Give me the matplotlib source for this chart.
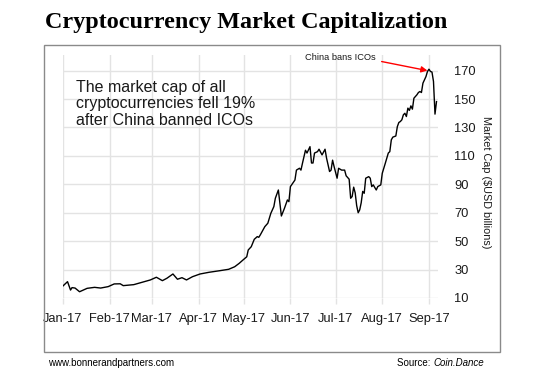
import matplotlib
matplotlib.use("Agg")
import matplotlib.pyplot as plt
import matplotlib.dates as mdates
from matplotlib.patches import Rectangle
import pandas as pd

# ---- data ----
dates = [
    "2017-01-01", "2017-01-04", "2017-01-06", "2017-01-07", "2017-01-09", "2017-01-12",
    "2017-01-17", "2017-01-22", "2017-01-26", "2017-01-31", "2017-02-04", "2017-02-08",
    "2017-02-10", "2017-02-17", "2017-02-24", "2017-02-28", "2017-03-04", "2017-03-08",
    "2017-03-11", "2017-03-15", "2017-03-18", "2017-03-21", "2017-03-24", "2017-03-28",
    "2017-04-02", "2017-04-08", "2017-04-15", "2017-04-21", "2017-04-25", "2017-04-28",
    "2017-05-01", "2017-05-03", "2017-05-04", "2017-05-06", "2017-05-08", "2017-05-10",
    "2017-05-11", "2017-05-12", "2017-05-15", "2017-05-17", "2017-05-19", "2017-05-21",
    "2017-05-22", "2017-05-24", "2017-05-26", "2017-05-28", "2017-05-30", "2017-05-31",
    "2017-06-01", "2017-06-04", "2017-06-05", "2017-06-07", "2017-06-08", "2017-06-09",
    "2017-06-11", "2017-06-12", "2017-06-14", "2017-06-15", "2017-06-16", "2017-06-17",
    "2017-06-19", "2017-06-20", "2017-06-22", "2017-06-24", "2017-06-25", "2017-06-27",
    "2017-06-28", "2017-06-29", "2017-06-30", "2017-07-02", "2017-07-03", "2017-07-05",
    "2017-07-07", "2017-07-08", "2017-07-10", "2017-07-11", "2017-07-12", "2017-07-13",
    "2017-07-14", "2017-07-15", "2017-07-16", "2017-07-17", "2017-07-18", "2017-07-19",
    "2017-07-20", "2017-07-21", "2017-07-23", "2017-07-24", "2017-07-25", "2017-07-26",
    "2017-07-28", "2017-07-29", "2017-07-31", "2017-08-01", "2017-08-02", "2017-08-03",
    "2017-08-05", "2017-08-06", "2017-08-07", "2017-08-08", "2017-08-10", "2017-08-11",
    "2017-08-12", "2017-08-13", "2017-08-14", "2017-08-15", "2017-08-16", "2017-08-17",
    "2017-08-18", "2017-08-19", "2017-08-20", "2017-08-21", "2017-08-22", "2017-08-24",
    "2017-08-25", "2017-08-26", "2017-08-27", "2017-08-28", "2017-08-30", "2017-08-31",
    "2017-09-01", "2017-09-02", "2017-09-03", "2017-09-04", "2017-09-05", "2017-09-06",
]
market_cap = [
    18.5, 21.5, 15.6, 17.3, 17.0, 14.4,
    16.8, 17.5, 17.0, 18.0, 19.9, 20.0,
    18.7, 19.4, 21.5, 22.7, 24.6, 22.2,
    23.9, 26.9, 23.2, 24.3, 22.7, 25.0,
    26.9, 28.1, 29.2, 30.2, 32.0, 34.4,
    37.2, 39.0, 43.8, 46.1, 51.3, 53.2,
    52.7, 54.4, 60.2, 62.6, 69.6, 74.3,
    80.2, 86.0, 67.7, 73.0, 79.0, 77.8,
    88.4, 93.0, 100.0, 101.3, 100.0, 104.8,
    114.0, 112.0, 116.5, 105.0, 105.0, 112.0,
    113.0, 114.7, 110.7, 114.7, 108.4, 99.0,
    100.0, 107.0, 102.5, 94.3, 101.3, 100.0,
    100.0, 96.0, 93.6, 80.2, 81.4, 88.0,
    84.0, 75.0, 70.0, 72.0, 77.0, 85.0,
    83.7, 94.3, 95.4, 94.3, 88.4, 89.6,
    86.0, 88.4, 89.6, 97.8, 101.3, 104.8,
    112.0, 113.0, 121.3, 123.2, 124.0, 130.6,
    133.5, 134.2, 135.4, 138.9, 140.0, 137.7,
    143.6, 142.0, 145.2, 142.9, 150.6, 153.0,
    154.6, 155.3, 154.6, 161.2, 165.8, 169.4,
    171.0, 169.4, 169.0, 162.4, 139.4, 148.2,
]
y_ticks = [10, 30, 50, 70, 90, 110, 130, 150, 170]

title = "Cryptocurrency Market Capitalization"
note = "The market cap of all\ncryptocurrencies fell 19%\nafter China banned ICOs"
event_label = "China bans ICOs"
y_label = "Market Cap ($USD billions)"

# ---- figure ----
W, H = 540, 373
fig = plt.figure(figsize=(W / 100, H / 100), dpi=100)
SANS = ["Liberation Sans", "DejaVu Sans"]

def fx(px):
    return px / W

def fy(py):
    return 1 - py / H

ax = fig.add_axes([fx(63), fy(298), (437.5 - 63) / W, (298 - 55) / H])

x = pd.to_datetime(dates)
ax.plot(x, market_cap, color="black", lw=1.0, zorder=3)

ax.set_ylim(10, 181)
ax.set_xlim(pd.Timestamp("2017-01-01"), pd.Timestamp("2017-09-06 16:00"))
ax.set_yticks(y_ticks)
ax.xaxis.set_major_locator(mdates.MonthLocator())
ax.xaxis.set_major_formatter(mdates.DateFormatter("%b-%y"))

grid_c = "#e3e3e3"
ax.grid(True, color=grid_c, lw=1.0, zorder=0)
for s in ax.spines.values():
    s.set_visible(False)
ax.yaxis.tick_right()
ax.tick_params(axis="y", length=0, pad=12, labelsize=9.3, colors="#1a1a1a")
ax.tick_params(axis="x", length=4, width=1, color=grid_c, pad=7, labelsize=9.3,
               labelcolor="#1a1a1a")
for lbl in ax.get_xticklabels() + ax.get_yticklabels():
    lbl.set_family(SANS)

# annotation arrow
ax.annotate("", xy=(pd.Timestamp("2017-08-31"), 170.0),
            xytext=(pd.Timestamp("2017-07-31 14:00"), 176.4),
            arrowprops=dict(arrowstyle="-|>", color="red", lw=1.0,
                            mutation_scale=9, shrinkA=0, shrinkB=0),
            annotation_clip=False, zorder=4)
ax.text(pd.Timestamp("2017-07-27 18:00"), 179.2, event_label, ha="right",
        va="center", fontsize=6.7, family=SANS, color="#1a1a1a", clip_on=False)

# frame box
fig.add_artist(Rectangle((fx(44), fy(352)), (500 - 44) / W, (352 - 45) / H,
                         transform=fig.transFigure, fill=False,
                         edgecolor="#8a8a8a", lw=1.0))

# title
fig.text(fx(45), fy(28), title, ha="left", va="baseline", fontsize=17.4,
         fontweight="bold", family=["Liberation Serif", "DejaVu Serif"],
         color="black")

# note
fig.text(fx(76), fy(80), note, ha="left", va="top", fontsize=11.5,
         family=SANS, color="#1a1a1a", linespacing=1.12)

# y label
fig.text(fx(486), fy(182), y_label, rotation=270, ha="center", va="center",
         fontsize=7.8, family=SANS, color="#1a1a1a")

# footer
fig.text(fx(48), fy(363), "www.bonnerandpartners.com", ha="left", va="center",
         fontsize=7.0, family=SANS, color="black")
t_src = fig.text(fx(484), fy(363), "Coin.Dance", ha="right", va="center",
                 fontsize=7.0, family=SANS, style="italic", color="black")
fig.canvas.draw()
bb = t_src.get_window_extent()
fig.text(bb.x0 / W, fy(363), "Source: ", ha="right", va="center",
         fontsize=7.0, family=SANS, color="black")

fig.savefig("out.png", dpi=100)
